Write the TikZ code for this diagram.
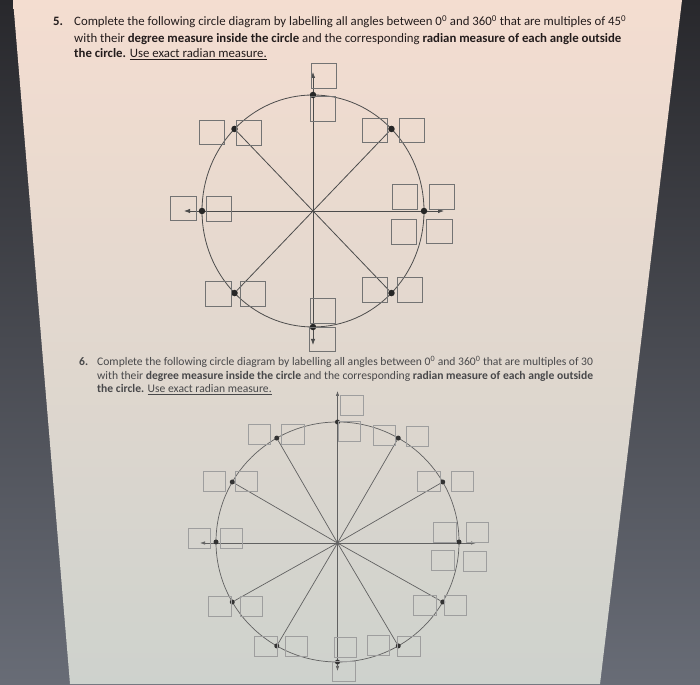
\documentclass[tikz,border=0pt]{standalone}
\usepackage{fontspec}
\setmainfont{Carlito}
\usetikzlibrary{arrows.meta}

\definecolor{screentop}{RGB}{40,40,44}
\definecolor{screenbot}{RGB}{104,108,118}
\definecolor{pagetop}{RGB}{244,221,208}
\definecolor{pagemid}{RGB}{240,232,226}
\definecolor{pagebot}{RGB}{206,210,205}
\definecolor{inkone}{RGB}{35,28,28}
\definecolor{inktwo}{RGB}{72,72,74}

\begin{document}
\begin{tikzpicture}[x=1pt, y=1pt,
    qtext/.style={anchor=base west, inner sep=0pt},
    bigdot/.style={circle, fill=black!85, inner sep=0pt, minimum size=6.5pt},
    smalldot/.style={circle, fill=black!80, inner sep=0pt, minimum size=5pt},
    bigbox/.style={draw=black!55, line width=0.8pt, minimum width=25.5pt, minimum height=24.5pt, inner sep=0pt},
    smallbox/.style={draw=black!38, line width=0.7pt, minimum width=22.5pt, minimum height=20pt, inner sep=0pt},
    lineone/.style={draw=black!70, line width=0.8pt},
    linetwo/.style={draw=black!62, line width=0.7pt},
    arrowone/.style={lineone, {Latex[length=6pt,width=4.5pt]}-{Latex[length=6pt,width=4.5pt]}},
    arrowtwo/.style={linetwo, {Latex[length=5pt,width=3.5pt]}-{Latex[length=5pt,width=3.5pt]}}]

    % screen and page
    \shade[top color=screentop, bottom color=screenbot] (0,0) rectangle (700,684);
    \shade[top color=pagetop, middle color=pagemid, bottom color=pagebot]
        (13,684) -- (682,684) -- (600,0) -- (70,0) -- cycle;
    \useasboundingbox (0,0) rectangle (700,684);

    % question 5
    \begin{scope}[text=inkone, font=\fontsize{12.8}{14}\selectfont]
        \node[qtext, font=\bfseries\fontsize{12.8}{14}\selectfont] (n5) at (53,658) {5.};
        \node[qtext] (q5a) at (74,658) {Complete the following circle diagram by labelling all angles between 0\textsuperscript{0} and 360\textsuperscript{0} that are multiples of 45\textsuperscript{0}};
        \node[qtext] (q5b) at (74,641) {with their \textbf{degree measure inside the circle} and the corresponding \textbf{radian measure of each angle outside}};
        \node[qtext] (q5c) at (74,626) {\textbf{the circle.} \underline{Use exact radian measure.}};
    \end{scope}

    % question 6
    \begin{scope}[text=inktwo, font=\fontsize{11.6}{13}\selectfont]
        \node[qtext, font=\bfseries\fontsize{11.6}{13}\selectfont] (n6) at (79,318) {6.};
        \node[qtext] (q6a) at (97,318) {Complete the following circle diagram by labelling all angles between 0\textsuperscript{0} and 360\textsuperscript{0} that are multiples of 30};
        \node[qtext] (q6b) at (97,304) {with their \textbf{degree measure inside the circle} and the corresponding \textbf{radian measure of each angle outside}};
        \node[qtext] (q6c) at (97,291) {\textbf{the circle.} \underline{Use exact radian measure.}};
    \end{scope}

    % circle for multiples of 45
    \begin{scope}[shift={(313,473)}]
        \coordinate (o1) at (0,0);
        \coordinate (a1top) at (0,139);
        \coordinate (a1bot) at (0,-134);
        \coordinate (a1left) at (-129,0);
        \coordinate (a1right) at (131,0);
        \draw[lineone] (o1) ellipse (111 and 116);
        \draw[arrowone] (a1bot) -- (a1top);
        \draw[arrowone] (a1left) -- (a1right);

        \node[bigdot] (a0) at (0:111 and 116) {};
        \node[bigdot] (a45) at (45:111 and 116) {};
        \node[bigdot] (a90) at (90:111 and 116) {};
        \node[bigdot] (a135) at (135:111 and 116) {};
        \node[bigdot] (a180) at (180:111 and 116) {};
        \node[bigdot] (a225) at (225:111 and 116) {};
        \node[bigdot] (a270) at (270:111 and 116) {};
        \node[bigdot] (a315) at (315:111 and 116) {};

        \draw[lineone] (o1) -- (a45);
        \draw[lineone] (o1) -- (a135);
        \draw[lineone] (o1) -- (a225);
        \draw[lineone] (o1) -- (a315);

        % 0
        \node[bigbox] (a0inup) at (92,14) {};
        \node[bigbox] (a0outup) at (129,14) {};
        \node[bigbox] (a0indown) at (91,-21) {};
        \node[bigbox] (a0outdown) at (126.5,-20.5) {};
        % 45
        \node[bigbox] (a45in) at (62,80.5) {};
        \node[bigbox] (a45out) at (99,80.7) {};
        % 90
        \node[bigbox] (a90in) at (10,102) {};
        \node[bigbox] (a90out) at (11,135) {};
        % 135
        \node[bigbox] (a135in) at (-64,78) {};
        \node[bigbox] (a135out) at (-101,78.5) {};
        % 180
        \node[bigbox] (a180in) at (-94,2) {};
        \node[bigbox] (a180out) at (-129.5,2.5) {};
        % 225
        \node[bigbox] (a225in) at (-60,-83) {};
        \node[bigbox] (a225out) at (-94.5,-83) {};
        % 270
        \node[bigbox] (a270in) at (10,-100) {};
        \node[bigbox] (a270out) at (9.5,-128.5) {};
        % 315
        \node[bigbox] (a315in) at (62,-79) {};
        \node[bigbox] (a315out) at (97,-79) {};
    \end{scope}

    % circle for multiples of 30
    \begin{scope}[shift={(337.5,141)}]
        \coordinate (o2) at (0,0);
        \coordinate (b2top) at (0,152);
        \coordinate (b2bot) at (0,-128);
        \coordinate (b2left) at (-137.5,0);
        \coordinate (b2right) at (138.5,0);
        \draw[arrowtwo] (b2bot) -- (b2top);
        \draw[arrowtwo] (b2left) -- (b2right);

        \begin{scope}[shift={(0,1)}]
            \draw[linetwo] (0,0) ellipse (121.5 and 120);
            \node[smalldot] (b0) at (0:121.5 and 120) {};
            \node[smalldot] (b30) at (30:121.5 and 120) {};
            \node[smalldot] (b60) at (60:121.5 and 120) {};
            \node[smalldot] (b90) at (90:121.5 and 120) {};
            \node[smalldot] (b120) at (120:121.5 and 120) {};
            \node[smalldot] (b150) at (150:121.5 and 120) {};
            \node[smalldot] (b180) at (180:121.5 and 120) {};
            \node[smalldot] (b210) at (210:121.5 and 120) {};
            \node[smalldot] (b240) at (240:121.5 and 120) {};
            \node[smalldot] (b270) at (270:121.5 and 120) {};
            \node[smalldot] (b300) at (300:121.5 and 120) {};
            \node[smalldot] (b330) at (330:121.5 and 120) {};
        \end{scope}

        \draw[linetwo] (o2) -- (b30);
        \draw[linetwo] (o2) -- (b60);
        \draw[linetwo] (o2) -- (b120);
        \draw[linetwo] (o2) -- (b150);
        \draw[linetwo] (o2) -- (b210);
        \draw[linetwo] (o2) -- (b240);
        \draw[linetwo] (o2) -- (b300);
        \draw[linetwo] (o2) -- (b330);

        % 0
        \node[smallbox] (b0inup) at (107.2,10.8) {};
        \node[smallbox] (b0outup) at (139.8,10.3) {};
        \node[smallbox] (b0indown) at (105.3,-17.3) {};
        \node[smallbox] (b0outdown) at (137.5,-18.2) {};
        % 30
        \node[smallbox] (b30in) at (91.5,62) {};
        \node[smallbox] (b30out) at (124.7,61.8) {};
        % 60
        \node[smallbox] (b60in) at (46.8,107.3) {};
        \node[smallbox] (b60out) at (79.8,106.8) {};
        % 90
        \node[smallbox] (b90in) at (11.7,111.8) {};
        \node[smallbox] (b90out) at (14.3,137.7) {};
        % 120
        \node[smallbox] (b120in) at (-44.7,108.2) {};
        \node[smallbox] (b120out) at (-78,108.3) {};
        % 150
        \node[smallbox] (b150in) at (-91,61.3) {};
        \node[smallbox] (b150out) at (-123.3,61.7) {};
        % 180
        \node[smallbox] (b180in) at (-106,4.5) {};
        \node[smallbox] (b180out) at (-138,4.5) {};
        % 210
        \node[smallbox] (b210in) at (-86.3,-63.5) {};
        \node[smallbox] (b210out) at (-117.7,-63.5) {};
        % 240
        \node[smallbox] (b240in) at (-41,-103.5) {};
        \node[smallbox] (b240out) at (-71.5,-103.5) {};
        % 270
        \node[smallbox] (b270in) at (7.7,-104.8) {};
        \node[smallbox] (b270out) at (6.5,-128.2) {};
        % 300
        \node[smallbox] (b300in) at (40.7,-102.7) {};
        \node[smallbox] (b300out) at (71.3,-103.2) {};
        % 330
        \node[smallbox] (b330in) at (87.2,-62.5) {};
        \node[smallbox] (b330out) at (117.8,-62.8) {};
    \end{scope}
\end{tikzpicture}
\end{document}
